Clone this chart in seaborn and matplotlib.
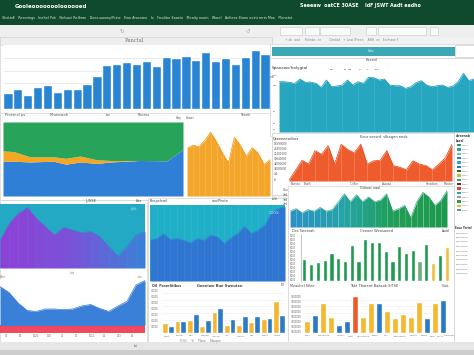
import numpy as np
import pandas as pd
import matplotlib
matplotlib.use("Agg")
import matplotlib.pyplot as plt
import seaborn as sns
from matplotlib.patches import Rectangle
from matplotlib.colors import LinearSegmentedColormap

sns.set_theme(style="white")
plt.rcParams['font.family'] = ['DejaVu Sans']

# ---------------- data ----------------
top_bars = [25.5, 32, 22, 35, 37, 27, 32, 31, 39, 52, 68, 71, 73, 70, 75.5, 67,
            81, 80, 83, 76.5, 89, 75.5, 79, 71, 81, 92, 86]

teal_area = [150, 150, 148, 145, 158, 148, 149, 145, 133, 155, 135, 137, 140,
             155, 140, 150, 145, 163, 162, 155, 158, 140, 138, 138, 130, 135,
             147, 153, 140, 135, 138, 140, 133, 137, 150, 175, 153, 158]

stack_pos = [0, 6, 15, 28, 35, 43, 52, 60, 76, 91, 100]
stack_blue = [0.47, 0.47, 0.46, 0.47, 0.43, 0.46, 0.44, 0.46, 0.48, 0.475, 0.63]
stack_orange = [0.14, 0.13, 0.07, 0.06, 0.08, 0.08, 0.05, 0.02, 0.0, 0.0, 0.0]

orange_area = [148, 158, 153, 173, 198, 168, 133, 103, 183, 158, 123, 150, 133, 98, 113]

red_area = [3, 33, 65, 53, 95, 83, 111, 53, 115, 98, 88, 115, 53, 63, 65, 95, 48,
            43, 35, 63, 53, 48, 35, 53, 73, 115]

green_area = [50, 58, 45, 55, 50, 62, 50, 55, 80, 105, 80, 102, 80, 95, 80, 85,
              105, 50, 58, 68, 30, 80, 110, 95, 68, 85, 115]

green_bars = [65, 50, 56, 63, 83, 70, 61, 108, 61, 126, 116, 116, 88, 61, 103,
              83, 91, 61, 111, 53, 78, 101]
green_bar_colors = ['#1f9a4f'] * 17 + ['#6fae7a', '#1f9a4f', '#f1bf3a', '#1f9a4f', '#f1bf3a']

ob_bars = [37, 53, 90, 47, 23, 37, 112, 47, 90, 90, 67, 45, 58, 47, 92, 45, 90, 100]
ob_colors = ['#f3b92f', '#2a78c8', '#f3b92f', '#f3b92f', '#2a78c8', '#2a78c8',
             '#ec5a2b', '#f3b92f', '#f3b92f', '#2a78c8', '#f3b92f', '#f3b92f',
             '#f3b92f', '#f3b92f', '#f3b92f', '#2a78c8', '#f3b92f', '#2a78c8']

purple_area = [85, 135, 165, 183, 150, 125, 100, 123, 115, 107, 110, 95, 65, 35,
               65, 100, 110]

band_area = [130, 110, 75, 50, 47, 55, 55, 53, 55, 65, 70, 57, 47, 65, 80, 135, 150]
band_red = [25] * 17

blue_area = [122, 127, 142, 124, 127, 122, 114, 127, 122, 137, 132, 112, 130,
             142, 164, 142, 152, 167, 204, 217, 222]

grp_orange = [30, 35, 40, 20, 62, 25, 25, 32, 42, 95]
grp_blue = [22, 35, 58, 38, 75, 42, 50, 52, 45, 55]
grp_labels = ['Mest', 'Leheel', 'Eise', 'Mlaogo', 'Meroe', 'Yell',
              'Nrpole', 'Rye', 'Lesoo', 'Maale']

legend_colors = ['#2e9a55', '#2aa3a0', '#8fb59a', '#2a7cc8', '#34a8b8', '#2a6fc0',
                 '#1d6e3a', '#b8c23a', '#3aa860', '#7a1f1f', '#e0452e', '#27a3ae',
                 '#9a9a9a', '#2f9a4f', '#d8c040', '#5aa070']

# ---------------- figure ----------------
W, H = 474, 355
fig = plt.figure(figsize=(W / 100, H / 100), dpi=100)
fig.patch.set_facecolor('#f2f2f2')

bg = fig.add_axes([0, 0, 1, 1])
bg.set_xlim(0, W)
bg.set_ylim(H, 0)
bg.axis('off')


def rect(x, y, w, h, fc, ec='none', lw=0.5):
    bg.add_patch(Rectangle((x, y), w, h, facecolor=fc, edgecolor=ec, lw=lw))


def txt(x, y, s, size=3.2, color='#555555', **kw):
    bg.text(x, y, s, fontsize=size, color=color, va='center', **kw)


def pax(x, y, w, h):
    return fig.add_axes([x / W, 1 - (y + h) / H, w / W, h / H])


def clean(a, keep_left=False):
    a.set_xticks([])
    a.set_yticks([])
    a.set_xlabel('')
    a.set_ylabel('')
    for k, s in a.spines.items():
        s.set_visible(keep_left and k == 'left')


# header
rect(0, 0, W, 25, '#0f4a2c')
txt(15, 6, 'Gooleoooooooloooooed', 4.0, 'white', fontweight='bold')
txt(300, 6, 'Seeeaw  oatCE 30ASE    IdF JSWT Aadt eadho', 3.4, 'white', fontweight='bold')
txt(2, 18, 'ShotinE   Reoorings   Ineltel Pnk   Nelsaei Rellrore   Deeeuuoony/Prine   '
    'Ewn Arasoree   lo   Frcolitre Eaaein   Meaity nuoin   Warel   Aelteoe Eione eoint '
    'mrin Moe   Plenetet', 2.4, '#dfe9e2')
# toolbar
rect(0, 25, W, 12, '#efefef')
for bx, bw in [(280, 22), (305, 14), (320, 30), (366, 10), (378, 48), (430, 8)]:
    rect(bx, 27, bw, 8, '#fafafa', '#c8c8c8', 0.4)
txt(120, 31, '\u21bb', 4, '#aaaaaa')
txt(245, 31, '\u21ba', 4, '#aaaaaa')
txt(285, 40, '+ ah  aod     Pelinbe  ee        Denbtd   + Leat lPreen    ANH  ee   Eenhaoe F',
    2.2, '#888888')

# panels
rect(0, 37, 272, 84, 'white', '#d4d4d4')
rect(0, 37, 272, 8, '#eeeeee', '#d4d4d4')
txt(125, 41, 'Punctal', 3.6, '#777777', family='DejaVu Serif')
rect(0, 113, 272, 87, 'white', '#d4d4d4')
rect(270, 58, 204, 78, 'white', '#d4d4d4')
rect(270, 44, 204, 14, 'white', '#d4d4d4')
rect(272, 47, 183, 8.5, '#3aa9b5')
rect(455, 45, 19, 12, 'white', '#cccccc')
txt(368, 51.5, 'lolo', 2.6, 'white')
txt(366, 60, 'Eaeeel', 2.6, '#555555')
txt(272, 68.5, "Spaeewo'holygtal", 3.0, '#333333')
txt(330, 71.5, 'Sparell Go-ciiwdg dihng', 3.4, '#333333')
rect(272, 133, 183, 62, 'white', '#cfcfcf')
rect(288, 186, 166, 156, 'white', '#d4d4d4')
rect(454, 130, 20, 214, 'white', '#cfcfcf')
rect(0, 200, 147, 142, 'white', '#d4d4d4')
rect(148, 198, 140, 144, 'white', '#d4d4d4')
# bottom bar
rect(0, 342, W, 8, '#e6e6e6')
rect(0, 350, W, 5, '#cdcdcd')
txt(134, 346, 'Iai', 2.4, '#666666')

# ---------- top-left bar chart ----------
ax = pax(3, 45, 267, 64)
df_top = pd.DataFrame({'k': [f'b{i}' for i in range(len(top_bars))], 'v': top_bars})
sns.barplot(data=df_top, x='k', y='v', color='#2a84d4', width=0.93,
            saturation=1, errorbar=None, ax=ax)
ax.set_ylim(0, 100)
ax.set_xlim(-0.5, len(top_bars) - 0.5)
clean(ax)
ax.set_yticks([20, 40, 60, 80])
ax.tick_params(left=False, labelleft=False)
ax.grid(axis='y', color='#e3e3e3', lw=0.5)
ax.set_axisbelow(True)
for xx, s in [(5, 'Proemal ps'), (50, 'Mraeewoh'), (106, 'bo'), (138, 'Peutes'), (240, 'Teeek')]:
    txt(xx, 115, s, 2.6, '#555555')
txt(265, 77, 'Teeeb', 2.2, '#555555')
txt(176, 118, 'Hwy', 2.0, '#555555')
txt(186, 118, 'Howet', 2.0, '#555555')

# ---------- teal area ----------
ax = pax(279, 70, 195, 62)
xt = np.arange(len(teal_area))
ax.fill_between(xt, teal_area, color='#27a6bf', lw=0)
sns.lineplot(x=xt, y=teal_area, color='#22a0bb', lw=0.6, ax=ax)
ax.set_xlim(0, len(teal_area) - 1)
ax.set_ylim(0, 185)
clean(ax)
ax.set_xticks(xt[::3])
ax.tick_params(bottom=False, labelbottom=False)
ax.grid(axis='x', color='white', alpha=0.12, lw=0.5)
ax.set_axisbelow(False)
for yy, s in [(76, '500'), (85, '400'), (112, '50'), (123, '10'), (130, '10')]:
    txt(272.5, yy, s, 1.7, '#555555')
txt(360, 137, 'Eour sessrd  slbagen eeds', 2.6, '#444444')

# ---------- stacked area ----------
ax = pax(3, 122, 180, 74)
green_part = [1 - b - o for b, o in zip(stack_blue, stack_orange)]
ax.stackplot(stack_pos, stack_blue, stack_orange, green_part,
             colors=['#2f7fd6', '#f5a623', '#27a35a'], lw=0)
ax.set_xlim(0, 100)
ax.set_ylim(0, 1)
clean(ax)

# ---------- orange area ----------
ax = pax(187, 122, 83, 74)
xo = np.arange(len(orange_area))
ax.fill_between(xo, orange_area, color='#f4a62a', lw=0)
sns.lineplot(x=xo, y=orange_area, color='#f09a20', lw=0.6, ax=ax)
ax.set_xlim(0, len(orange_area) - 1)
ax.set_ylim(0, 230)
clean(ax)
ax.set_xticks(xo)
ax.tick_params(bottom=False, labelbottom=False)
ax.grid(axis='x', color='white', alpha=0.2, lw=0.5)
ax.set_axisbelow(False)

# ---------- red area ----------
ax = pax(289, 141, 163, 40)
xr = np.arange(len(red_area))
ax.fill_between(xr, red_area, color='#ee5b2c', lw=0)
sns.lineplot(x=xr, y=red_area, color='#e8532a', lw=0.6, ax=ax)
ax.set_xlim(0, len(red_area) - 1)
ax.set_ylim(0, 125)
clean(ax)
ax.set_xticks(xr[::2])
ax.tick_params(bottom=False, labelbottom=False)
ax.grid(axis='x', color='white', alpha=0.25, lw=0.5)
ax.set_axisbelow(False)
txt(273, 139, 'Qeeeeeesnlbes', 2.4, '#333333')
for i, yy in enumerate([144, 149, 154, 159, 164, 169, 174, 180]):
    txt(274, yy, ['18390000', '26400000', '22201000', '30040000', '42000000',
                  '32000000', '2dt', '8l'][i], 2.0, '#555555')
for xx, s in [(291, 'Baeseo'), (304, 'Bnalh'), (350, 'Ci Bin'), (382, 'Aaaaaa'),
              (426, 'Sestdoon'), (444, 'Meaoor')]:
    txt(xx, 184, s, 2.0, '#555555')
txt(360, 187.5, 'Dcboar ugal', 2.4, '#444444')

# ---------- green/teal area ----------
ax = pax(290, 189, 157, 38)
xg = np.arange(len(green_area))
cmap = LinearSegmentedColormap.from_list('tg', ['#2a92c6', '#25a4a6', '#1f9e55', '#1e9a4e'])
for i in range(len(green_area) - 1):
    ax.fill_between(xg[i:i + 2], green_area[i:i + 2], color=cmap(i / (len(green_area) - 2)), lw=0)
sns.lineplot(x=xg, y=green_area, color='#239e7a', lw=0.4, ax=ax)
ax.set_xlim(0, len(green_area) - 1)
ax.set_ylim(0, 120)
clean(ax)
ax.set_xticks(xg[::2])
ax.tick_params(bottom=False, labelbottom=False)
ax.grid(axis='x', color='white', alpha=0.25, lw=0.5)
ax.set_axisbelow(False)
for yy, s in [(190, 'Obu'), (195, '4ml'), (200, '3ml'), (204, '2ml')]:
    txt(283, yy, s, 2.0, '#555555')
txt(292, 231, 'Doo Tatenrah', 2.4, '#444444')
txt(360, 231, 'Ceeoer Weasaoed', 2.6, '#444444')
txt(442, 231, 'Aadd', 2.2, '#444444')

# ---------- green bars ----------
ax = pax(301, 234, 149, 47)
df_g = pd.DataFrame({'k': [f'g{i}' for i in range(len(green_bars))], 'v': green_bars})
sns.barplot(data=df_g, x='k', y='v', hue='k', palette=green_bar_colors, legend=False,
            width=0.62, saturation=1, errorbar=None, ax=ax)
ax.set_ylim(0, 140)
ax.set_xlim(-0.5, len(green_bars) - 0.5)
clean(ax, keep_left=True)
ax.spines['left'].set_color('#999999')
ax.spines['left'].set_linewidth(0.4)
for i, yy in enumerate(range(236, 282, 4)):
    txt(290, yy, '8000', 1.8, '#666666')

# ---------- orange/blue bars ----------
txt(290, 286, 'Meauhel Stlee', 2.4, '#444444')
txt(350, 286, 'Takt Tharerd Bakaok SIThE', 2.6, '#444444')
txt(442, 286, 'Sacb', 2.2, '#444444')
ax = pax(303, 293, 144, 40)
df_ob = pd.DataFrame({'k': [f'o{i}' for i in range(len(ob_bars))], 'v': ob_bars})
sns.barplot(data=df_ob, x='k', y='v', hue='k', palette=ob_colors, legend=False,
            width=0.86, saturation=1, errorbar=None, ax=ax)
ax.set_ylim(0, 120)
ax.set_xlim(-0.5, len(ob_bars) - 0.5)
clean(ax)
ax.set_yticks([20, 40, 60, 80, 100])
ax.tick_params(left=False, labelleft=False)
ax.grid(axis='y', color='#ececec', lw=0.4)
ax.set_axisbelow(True)
for i, yy in enumerate(range(297, 334, 5)):
    txt(291, yy, '3200000', 1.8, '#666666')
for xx, s in [(305, 'Thes'), (318, 'Thesmoke'), (337, 'Wessn'), (348, 'Msth'),
              (357, 'Neolkthmn'), (372, 'Resse'), (384, 'Siol'), (394, 'Seprbimes'),
              (410, 'Meons'), (421, 'Bisiee'), (430, 'Dere'), (437, 'aiorte'), (444, 'Teolesses')]:
    txt(xx, 336, s, 1.7, '#666666')

# ---------- legend panel ----------
txt(456, 136, 'dlrosnob', 2.2, '#333333', fontweight='bold')
txt(456, 141, 'Laeel', 2.0, '#333333', fontweight='bold')
for i, c in enumerate(legend_colors):
    yy = 145 + i * 4.35
    rect(457, yy - 1.2, 4, 2.4, c)
    txt(462, yy, 'eeeoe', 1.6, '#777777')
txt(455.5, 228, 'Ecuo Yertol', 1.9, '#333333', fontweight='bold')
for i in range(10):
    txt(456, 233 + i * 4.5, 'eaoeoeeee', 1.6, '#777777')

# ---------- purple area ----------
txt(85, 201, 'JUSSE', 2.6, '#444444')
txt(136, 201, 'Aate', 2.0, '#444444')
ax = pax(0, 204, 145, 64)
ax.set_facecolor('#24a9c4')
xp = np.arange(len(purple_area))
pcmap = LinearSegmentedColormap.from_list('pb', ['#8e3fd6', '#7a52d8', '#3d7fd8'])
for i in range(len(purple_area) - 1):
    ax.fill_between(xp[i:i + 2], purple_area[i:i + 2], color=pcmap(i / (len(purple_area) - 2)), lw=0)
sns.lineplot(x=xp, y=purple_area, color='#6a5ad8', lw=0.3, ax=ax)
ax.set_xlim(0, len(purple_area) - 1)
ax.set_ylim(0, 193)
clean(ax)
ax.text(0.9, 0.9, 'Jolk', transform=ax.transAxes, fontsize=2.6, color='#bde6f0')
txt(70, 273, 'Lets', 1.8, '#777777')
txt(0, 277, 'Zent', 1.8, '#777777')
txt(138, 277, 'nen', 1.8, '#777777')

# ---------- blue area with red band ----------
ax = pax(0, 279, 145, 54)
xb = np.arange(len(band_area))
band_top = [r + v for r, v in zip(band_red, band_area)]
ax.fill_between(xb, 0, band_red, color='#f1485d', lw=0)
ax.fill_between(xb, band_red, band_top, color='#3a7fd8', lw=0)
sns.lineplot(x=xb, y=band_top, color='#3478d2', lw=0.5, ax=ax)
ax.set_xlim(0, len(band_area) - 1)
ax.set_ylim(0, 180)
clean(ax)
for i, s in enumerate(['40', '50', '1020', '120', '40', '70', '1010', '20', '403', '19']):
    txt(5 + i * 14, 336, s, 1.8, '#666666')

# ---------- blue/teal area ----------
txt(150, 201, 'Beepolerel', 2.4, '#444444')
txt(212, 201, 'aoo/Pheto', 2.4, '#444444')
txt(272, 199, 'eelet', 1.8, '#444444')
ax = pax(150, 205, 135, 76)
ax.set_facecolor('#1fb0c7')
xm = np.arange(len(blue_area))
ax.fill_between(xm, blue_area, color='#2f76d2', lw=0)
sns.lineplot(x=xm, y=blue_area, color='#3184d6', lw=0.5, ax=ax)
ax.set_xlim(0, len(blue_area) - 1)
ax.set_ylim(0, 227)
clean(ax)
ax.set_xticks(xm)
ax.tick_params(bottom=False, labelbottom=False)
ax.grid(axis='x', color='white', alpha=0.08, lw=0.5)
ax.set_axisbelow(False)
ax.text(0.88, 0.88, 'COGS', transform=ax.transAxes, fontsize=2.6, color='#bde6f0')

# ---------- grouped bars ----------
txt(152, 286, 'Oil  Peserlitibes', 2.4, '#444444', fontweight='bold')
txt(197, 286, 'Goeeiwe Bue Sweuten', 2.6, '#444444', fontweight='bold')
txt(281, 285, 'DO', 2.0, '#444444')
ax = pax(162, 289, 123, 44)
df_grp = pd.DataFrame({'k': grp_labels + grp_labels,
                       'v': grp_orange + grp_blue,
                       's': ['o'] * len(grp_orange) + ['b'] * len(grp_blue)})
sns.barplot(data=df_grp, x='k', y='v', hue='s', palette={'o': '#f5b530', 'b': '#2a7cc4'},
            width=0.95, gap=0, saturation=1, errorbar=None, legend=False, ax=ax)
ax.set_ylim(0, 132)
ax.set_xlim(-0.5, len(grp_labels) - 0.5)
clean(ax)
ax.set_yticks([20, 40, 60, 80, 100, 120])
ax.tick_params(left=False, labelleft=False)
ax.grid(axis='y', color='#ececec', lw=0.4)
ax.set_axisbelow(True)
for i, yy in enumerate(range(291, 333, 6)):
    txt(151, yy, '30000', 1.8, '#666666')
for i, s in enumerate(grp_labels):
    txt(164 + i * 12.2, 336, s, 1.7, '#666666')
txt(180, 341, 'Tr.U1     %     Plaoo     Blaupse', 2.0, '#777777')

fig.savefig('out.png', dpi=100, facecolor=fig.get_facecolor())
